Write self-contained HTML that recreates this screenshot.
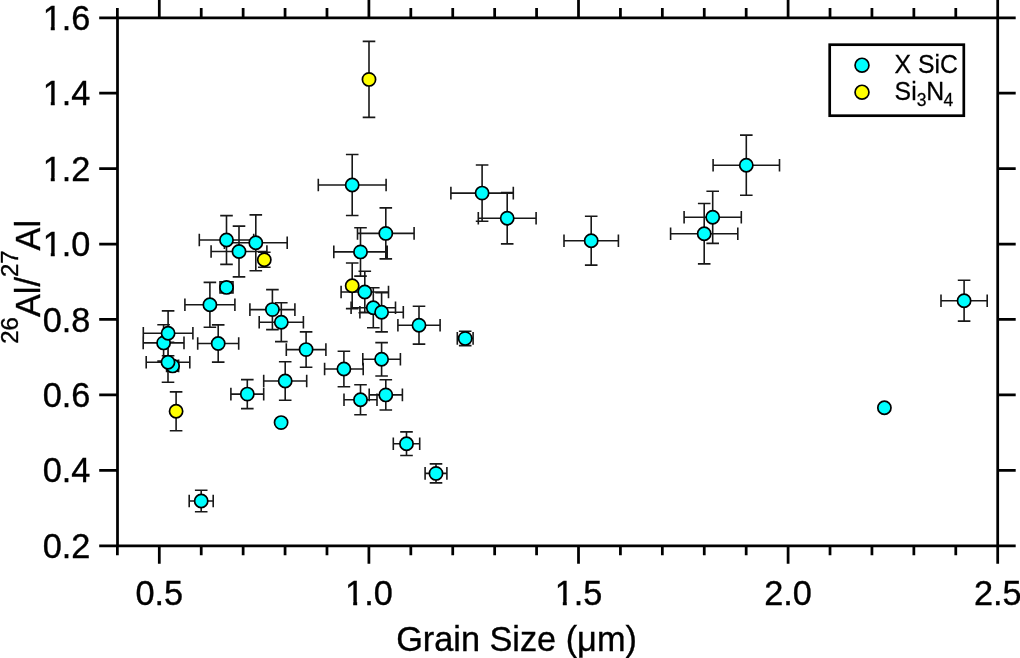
<!DOCTYPE html>
<html><head><meta charset="utf-8"><title>Grain Size vs 26Al/27Al</title>
<style>html,body{margin:0;padding:0;background:#fff}svg{display:block}text{font-family:"Liberation Sans",sans-serif;fill:#000}</style></head>
<body>
<svg width="1020" height="658" viewBox="0 0 1020 658">
<rect width="1020" height="658" fill="#fff"/>
<defs><clipPath id="c1e"><rect x="-52.68" y="-45" width="90" height="41.69"/><rect x="-39.51" y="-3.41" width="3.93" height="6"/><rect x="-28.31" y="-3.41" width="60" height="14"/></clipPath><clipPath id="c1m"><rect x="-28.84" y="-45" width="90" height="41.69"/><rect x="-15.67" y="-3.41" width="3.93" height="6"/><rect x="-4.46" y="-3.41" width="60" height="14"/></clipPath></defs>
<g stroke="#181818" stroke-width="1.6" fill="none">
<path d="M143.2 342.9H184.0M143.2 336.6V349.2M184.0 336.6V349.2M163.6 324.7V361.1M157.3 324.7H169.9M157.3 361.1H169.9M143.3 333.3H192.9M143.3 327.0V339.6M192.9 327.0V339.6M168.1 310.9V355.7M161.8 310.9H174.4M161.8 355.7H174.4M166.6 365.9H178.6M166.6 359.6V372.2M178.6 359.6V372.2M172.6 360.5V371.3M166.3 360.5H178.9M166.3 371.3H178.9M146.2 362.3H189.8M146.2 356.0V368.6M189.8 356.0V368.6M168.0 342.4V382.2M161.7 342.4H174.3M161.7 382.2H174.3M189.2 501.0H213.2M189.2 494.7V507.3M213.2 494.7V507.3M201.2 490.2V511.8M194.9 490.2H207.5M194.9 511.8H207.5M184.9 304.8H234.9M184.9 298.5V311.1M234.9 298.5V311.1M209.9 282.4V327.2M203.6 282.4H216.2M203.6 327.2H216.2M197.7 343.5H238.7M197.7 337.2V349.8M238.7 337.2V349.8M218.2 324.9V362.1M211.9 324.9H224.5M211.9 362.1H224.5M220.0 287.4H233.0M220.0 281.1V293.7M233.0 281.1V293.7M226.5 281.8V293.0M220.2 281.8H232.8M220.2 293.0H232.8M199.3 240.0H253.7M199.3 233.7V246.3M253.7 233.7V246.3M226.5 215.6V264.4M220.2 215.6H232.8M220.2 264.4H232.8M224.4 242.8H287.2M224.4 236.5V249.1M287.2 236.5V249.1M255.8 214.9V270.7M249.5 214.9H262.1M249.5 270.7H262.1M211.1 251.5H266.9M211.1 245.2V257.8M266.9 245.2V257.8M239.0 226.1V276.9M232.7 226.1H245.3M232.7 276.9H245.3M230.9 394.1H263.7M230.9 387.8V400.4M263.7 387.8V400.4M247.3 379.6V408.6M241.0 379.6H253.6M241.0 408.6H253.6M249.9 309.6H294.9M249.9 303.3V315.9M294.9 303.3V315.9M272.4 289.6V329.6M266.1 289.6H278.7M266.1 329.6H278.7M259.2 322.2H303.4M259.2 315.9V328.5M303.4 315.9V328.5M281.3 302.8V341.6M275.0 302.8H287.6M275.0 341.6H287.6M263.7 381.0H306.7M263.7 374.7V387.3M306.7 374.7V387.3M285.2 361.7V400.3M278.9 361.7H291.5M278.9 400.3H291.5M286.3 349.6H325.9M286.3 343.3V355.9M325.9 343.3V355.9M306.1 331.9V367.3M299.8 331.9H312.4M299.8 367.3H312.4M318.3 185.0H386.1M318.3 178.7V191.3M386.1 178.7V191.3M352.2 154.5V215.5M345.9 154.5H358.5M345.9 215.5H358.5M333.8 251.9H387.2M333.8 245.6V258.2M387.2 245.6V258.2M360.5 227.7V276.1M354.2 227.7H366.8M354.2 276.1H366.8M357.5 233.4H414.1M357.5 227.1V239.7M414.1 227.1V239.7M385.8 207.9V258.9M379.5 207.9H392.1M379.5 258.9H392.1M341.1 292.0H388.5M341.1 285.7V298.3M388.5 285.7V298.3M364.8 271.3V312.7M358.5 271.3H371.1M358.5 312.7H371.1M351.1 307.8H395.5M351.1 301.5V314.1M395.5 301.5V314.1M373.3 287.8V327.8M367.0 287.8H379.6M367.0 327.8H379.6M359.9 312.3H403.3M359.9 306.0V318.6M403.3 306.0V318.6M381.6 292.7V331.9M375.3 292.7H387.9M375.3 331.9H387.9M397.9 325.2H440.1M397.9 318.9V331.5M440.1 318.9V331.5M419.0 306.3V344.1M412.7 306.3H425.3M412.7 344.1H425.3M457.3 338.4H473.1M457.3 332.1V344.7M473.1 332.1V344.7M465.2 331.2V345.6M458.9 331.2H471.5M458.9 345.6H471.5M324.6 369.0H363.2M324.6 362.7V375.3M363.2 362.7V375.3M343.9 351.3V386.7M337.6 351.3H350.2M337.6 386.7H350.2M362.8 359.3H400.4M362.8 353.0V365.6M400.4 353.0V365.6M381.6 342.6V376.0M375.3 342.6H387.9M375.3 376.0H387.9M344.0 399.7H377.0M344.0 393.4V406.0M377.0 393.4V406.0M360.5 384.7V414.7M354.2 384.7H366.8M354.2 414.7H366.8M369.2 394.9H402.4M369.2 388.6V401.2M402.4 388.6V401.2M385.8 379.8V410.0M379.5 379.8H392.1M379.5 410.0H392.1M393.3 443.7H419.7M393.3 437.4V450.0M419.7 437.4V450.0M406.5 431.9V455.5M400.2 431.9H412.8M400.2 455.5H412.8M425.1 473.4H446.9M425.1 467.1V479.7M446.9 467.1V479.7M436.0 463.9V482.9M429.7 463.9H442.3M429.7 482.9H442.3M450.9 193.1H513.3M450.9 186.8V199.4M513.3 186.8V199.4M482.1 165.0V221.2M475.8 165.0H488.4M475.8 221.2H488.4M478.3 218.2H536.1M478.3 211.9V224.5M536.1 211.9V224.5M507.2 192.5V243.9M500.9 192.5H513.5M500.9 243.9H513.5M564.0 240.7H618.4M564.0 234.4V247.0M618.4 234.4V247.0M591.2 216.3V265.1M584.9 216.3H597.5M584.9 265.1H597.5M713.1 165.2H779.5M713.1 158.9V171.5M779.5 158.9V171.5M746.3 135.1V195.3M740.0 135.1H752.6M740.0 195.3H752.6M684.1 217.3H741.3M684.1 211.0V223.6M741.3 211.0V223.6M712.7 191.2V243.4M706.4 191.2H719.0M706.4 243.4H719.0M670.6 233.7H737.8M670.6 227.4V240.0M737.8 227.4V240.0M704.2 203.5V263.9M697.9 203.5H710.5M697.9 263.9H710.5M941.0 300.7H987.2M941.0 294.4V307.0M987.2 294.4V307.0M964.1 280.3V321.1M957.8 280.3H970.4M957.8 321.1H970.4"/>
<g fill="#00ffff" stroke="#000" stroke-width="1.7">
<circle cx="163.6" cy="342.9" r="6.6"/>
<circle cx="168.1" cy="333.3" r="6.6"/>
<circle cx="172.6" cy="365.9" r="6.6"/>
<circle cx="168.0" cy="362.3" r="6.6"/>
<circle cx="201.2" cy="501.0" r="6.6"/>
<circle cx="209.9" cy="304.8" r="6.6"/>
<circle cx="218.2" cy="343.5" r="6.6"/>
<circle cx="226.5" cy="287.4" r="6.6"/>
<circle cx="226.5" cy="240.0" r="6.6"/>
<circle cx="255.8" cy="242.8" r="6.6"/>
<circle cx="239.0" cy="251.5" r="6.6"/>
<circle cx="247.3" cy="394.1" r="6.6"/>
<circle cx="272.4" cy="309.6" r="6.6"/>
<circle cx="281.3" cy="322.2" r="6.6"/>
<circle cx="285.2" cy="381.0" r="6.6"/>
<circle cx="281.1" cy="422.6" r="6.6"/>
<circle cx="306.1" cy="349.6" r="6.6"/>
<circle cx="352.2" cy="185.0" r="6.6"/>
<circle cx="360.5" cy="251.9" r="6.6"/>
<circle cx="385.8" cy="233.4" r="6.6"/>
<circle cx="364.8" cy="292.0" r="6.6"/>
<circle cx="373.3" cy="307.8" r="6.6"/>
<circle cx="381.6" cy="312.3" r="6.6"/>
<circle cx="419.0" cy="325.2" r="6.6"/>
<circle cx="465.2" cy="338.4" r="6.6"/>
<circle cx="343.9" cy="369.0" r="6.6"/>
<circle cx="381.6" cy="359.3" r="6.6"/>
<circle cx="360.5" cy="399.7" r="6.6"/>
<circle cx="385.8" cy="394.9" r="6.6"/>
<circle cx="406.5" cy="443.7" r="6.6"/>
<circle cx="436.0" cy="473.4" r="6.6"/>
<circle cx="482.1" cy="193.1" r="6.6"/>
<circle cx="507.2" cy="218.2" r="6.6"/>
<circle cx="591.2" cy="240.7" r="6.6"/>
<circle cx="746.3" cy="165.2" r="6.6"/>
<circle cx="712.7" cy="217.3" r="6.6"/>
<circle cx="704.2" cy="233.7" r="6.6"/>
<circle cx="964.1" cy="300.7" r="6.6"/>
<circle cx="884.4" cy="407.8" r="6.6"/>
</g>
<path d="M176.1 391.9V430.7M169.8 391.9H182.4M169.8 430.7H182.4M264.3 252.3V267.3M258.0 252.3H270.6M258.0 267.3H270.6M369.0 41.4V117.4M362.7 41.4H375.3M362.7 117.4H375.3M352.2 263.0V308.6M345.9 263.0H358.5M345.9 308.6H358.5"/>
<g fill="#ffff00" stroke="#000" stroke-width="1.7">
<circle cx="176.1" cy="411.3" r="6.6"/>
<circle cx="264.3" cy="259.8" r="6.6"/>
<circle cx="369.0" cy="79.4" r="6.6"/>
<circle cx="352.2" cy="285.8" r="6.6"/>
</g>
</g>
<g stroke="#000" stroke-width="2.75" fill="none" stroke-linecap="butt">
<path d="M117.50 17.75V545.75M997.70 17.75V545.75M99.20 17.75H1015.70M99.20 545.75H1015.70M99.2 470.32H117.50M997.70 470.32H1015.7M99.2 394.89H117.50M997.70 394.89H1015.7M99.2 319.46H117.50M997.70 319.46H1015.7M99.2 244.04H117.50M997.70 244.04H1015.7M99.2 168.61H117.50M997.70 168.61H1015.7M99.2 93.18H117.50M997.70 93.18H1015.7M117.38 545.75V555.20M117.38 17.75V8.00M159.30 545.75V563.70M159.30 17.75V-1.00M201.22 545.75V555.20M201.22 17.75V8.00M243.14 545.75V555.20M243.14 17.75V8.00M285.06 545.75V555.20M285.06 17.75V8.00M326.98 545.75V555.20M326.98 17.75V8.00M368.90 545.75V563.70M368.90 17.75V-1.00M410.82 545.75V555.20M410.82 17.75V8.00M452.74 545.75V555.20M452.74 17.75V8.00M494.66 545.75V555.20M494.66 17.75V8.00M536.58 545.75V555.20M536.58 17.75V8.00M578.50 545.75V563.70M578.50 17.75V-1.00M620.42 545.75V555.20M620.42 17.75V8.00M662.34 545.75V555.20M662.34 17.75V8.00M704.26 545.75V555.20M704.26 17.75V8.00M746.18 545.75V555.20M746.18 17.75V8.00M788.10 545.75V563.70M788.10 17.75V-1.00M830.02 545.75V555.20M830.02 17.75V8.00M871.94 545.75V555.20M871.94 17.75V8.00M913.86 545.75V555.20M913.86 17.75V8.00M955.78 545.75V555.20M955.78 17.75V8.00M997.70 545.75V563.70M997.70 17.75V-1.00"/>
</g>
<g stroke="#000" stroke-width="0.35">
<text transform="translate(90.30 557.85) scale(1 1.02)" font-size="34.3" text-anchor="end">0.2</text>
<text transform="translate(90.30 482.42) scale(1 1.02)" font-size="34.3" text-anchor="end">0.4</text>
<text transform="translate(90.30 406.99) scale(1 1.02)" font-size="34.3" text-anchor="end">0.6</text>
<text transform="translate(90.30 331.56) scale(1 1.02)" font-size="34.3" text-anchor="end">0.8</text>
<text transform="translate(90.30 256.14) scale(1 1.02)" font-size="34.3" text-anchor="end" clip-path="url(#c1e)">1.0</text>
<text transform="translate(90.30 180.71) scale(1 1.02)" font-size="34.3" text-anchor="end" clip-path="url(#c1e)">1.2</text>
<text transform="translate(90.30 105.28) scale(1 1.02)" font-size="34.3" text-anchor="end" clip-path="url(#c1e)">1.4</text>
<text transform="translate(90.30 29.85) scale(1 1.02)" font-size="34.3" text-anchor="end" clip-path="url(#c1e)">1.6</text>
<text transform="translate(159.30 604.60) scale(1 1.02)" font-size="34.3" text-anchor="middle">0.5</text>
<text transform="translate(368.90 604.60) scale(1 1.02)" font-size="34.3" text-anchor="middle" clip-path="url(#c1m)">1.0</text>
<text transform="translate(578.50 604.60) scale(1 1.02)" font-size="34.3" text-anchor="middle" clip-path="url(#c1m)">1.5</text>
<text transform="translate(788.10 604.60) scale(1 1.02)" font-size="34.3" text-anchor="middle">2.0</text>
<text transform="translate(997.70 604.60) scale(1 1.02)" font-size="34.3" text-anchor="middle">2.5</text>
<text transform="translate(516.50 651.00) scale(1 1.02)" font-size="34.3" text-anchor="middle">Grain Size (μm)</text>
<text transform="translate(40.3 343.8) rotate(-90) scale(1 1.02)" font-size="34.3"><tspan font-size="24" dy="-21.96">26</tspan><tspan dy="21.96">Al/</tspan><tspan font-size="24" dy="-21.96">27</tspan><tspan dy="21.96">Al</tspan></text>
</g>
<rect x="829.7" y="44.7" width="134.1" height="71" fill="#fff" stroke="#000" stroke-width="2.7"/>
<circle cx="862" cy="65.2" r="6.95" fill="#00ffff" stroke="#000" stroke-width="1.7"/>
<circle cx="862" cy="92.2" r="6.95" fill="#ffff00" stroke="#000" stroke-width="1.7"/>
<g stroke="#000" stroke-width="0.25">
<text transform="translate(894.60 72.90) scale(1 1.02)" font-size="24.8">X SiC</text>
<text transform="translate(894.60 99.80) scale(1 1.02)" font-size="24.8">Si<tspan font-size="17.5" dy="5.88">3</tspan><tspan dy="-5.88">N</tspan><tspan font-size="17.5" dy="5.88" dx="-0.8">4</tspan></text>
</g>
</svg></body></html>
